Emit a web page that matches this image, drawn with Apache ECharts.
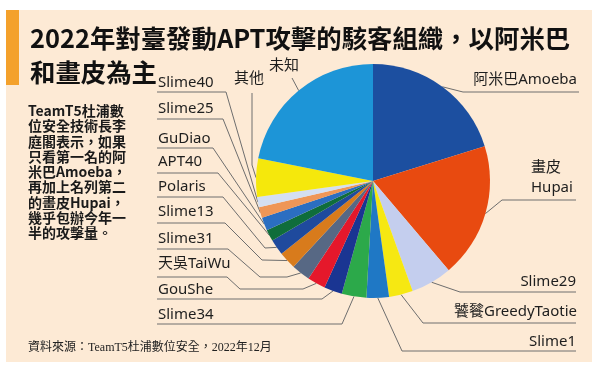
<!DOCTYPE html>
<html><head><meta charset="utf-8">
<script src="https://cdn.jsdelivr.net/npm/echarts@6/dist/echarts.min.js"></script>
<style>html,body{margin:0;padding:0;background:#fff}#c{width:600px;height:374px}</style>
</head><body><div id="c"></div>
<script>
const categories = ['阿米巴Amoeba','畫皮Hupai','Slime29','饕餮GreedyTaotie','Slime1','Slime34','GouShe','天吳TaiWu','Slime31','Slime13','Polaris','APT40','GuDiao','Slime25','Slime40','其他','未知'];
const shares = [20.2, 18.6, 5.7, 3.3, 3.1, 3.4, 2.5, 2.5, 2.6, 2.4, 2.2, 1.6, 1.8, 1.5, 1.4, 5.3, 21.9];
const colors = ['#1c4fa0','#e84a10','#c4ceee','#f6e812','#1f78c5','#2ca94a','#1a3592','#e5182b','#576884','#d87b1c','#1f4a9d','#0f6d3b','#2b6ec1','#ef9656','#d4dff1','#f5e80c','#1d95d7'];
const titleLines = ['2022年對臺發動APT攻擊的駭客組織，以阿米巴', '和畫皮為主'];
const noteLines = ['TeamT5杜浦數','位安全技術長李','庭閣表示，如果','只看第一名的阿','米巴Amoeba，','再加上名列第二','的畫皮Hupai，','幾乎包辦今年一','半的攻擊量。'];
const sourceText = '資料來源：TeamT5杜浦數位安全，2022年12月';

// label placement (layout only)
const place = {
  'Slime40': {x:158, y:83, align:'left', line:[[226,92],[157,92]]},
  'Slime25': {x:158, y:109, align:'left', line:[[223,119],[157,119]]},
  'GuDiao': {x:158, y:139, align:'left', line:[[213,148],[157,148]]},
  'APT40': {x:158, y:162, align:'left', line:[[218,173],[157,173]]},
  'Polaris': {x:158, y:187, align:'left', line:[[265,248],[223,197],[157,197]]},
  'Slime13': {x:158, y:212, align:'left', line:[[262,260],[225,223],[157,223]]},
  'Slime31': {x:158, y:239, align:'left', line:[[287,277],[260,277],[228,249],[157,249]]},
  '天吳TaiWu': {x:158, y:264, align:'left', line:[[303,289],[240,289],[227,277],[157,277]]},
  'GouShe': {x:158, y:290, align:'left', line:[[322,299],[157,299]]},
  'Slime34': {x:158, y:315, align:'left', line:[[342,324],[157,324]]},
  '阿米巴Amoeba': {x:577, y:80, align:'right', line:[[463,92],[579,92]]},
  '畫皮Hupai': {x:531, y:178, align:'left', line:[[502,200],[576,200]]},
  'Slime29': {x:576, y:282, align:'right', line:[[460,292],[576,292]]},
  '饕餮GreedyTaotie': {x:577, y:312, align:'right', line:[[423,323],[576,323]]},
  'Slime1': {x:576, y:342, align:'right', line:[[402,351],[576,351]]},
  '其他': {x:249, y:79, align:'center', line:[[252,165],[252,93]]},
  '未知': {x:284, y:66, align:'center', line:[[292,78]]}
};

const chart = echarts.init(document.getElementById('c'), null, {renderer:'canvas'});
const latin = "'Noto Sans','Noto Sans CJK TC',sans-serif";
chart.setOption({
  animation:false,
  backgroundColor:'#ffffff',
  graphic:[
    {type:'rect', shape:{x:6,y:10,width:586,height:352}, style:{fill:'#fdead5'}, z:-10},
    {type:'rect', shape:{x:6,y:10,width:13,height:75}, style:{fill:'#f4a12b'}, z:-5},
    {type:'text', x:30, y:38, style:{text:titleLines[0], font:"bold 25.4px 'Noto Sans CJK TC'", fill:'#111', textVerticalAlign:'middle'}},
    {type:'text', x:30, y:72, style:{text:titleLines[1], font:"bold 25.4px 'Noto Sans CJK TC'", fill:'#111', textVerticalAlign:'middle'}},
    {type:'text', x:28, y:103, style:{text:noteLines.join('\n'), font:"bold 14px 'Noto Sans CJK TC'", lineHeight:15.3, fill:'#1a1a1a', textVerticalAlign:'top'}},
    {type:'text', x:28, y:348, style:{text:sourceText, font:"12px 'Liberation Serif','Noto Sans CJK TC'", fill:'#222', textVerticalAlign:'middle'}}
  ],
  series:[{
    type:'pie',
    center:[373,181],
    radius:117,
    startAngle:90,
    clockwise:true,
    avoidLabelOverlap:false,
    silent:true,
    data: categories.map((n,i)=>({name:n, value:shares[i], itemStyle:{color:colors[i]}})),
    label:{
      show:true, position:'outside', fontSize:15, color:'#1e1e1e', fontFamily:latin,
      formatter: p => p.name === '畫皮Hupai' ? '畫皮\nHupai' : p.name,
      lineHeight:20
    },
    labelLine:{show:true, length:6, length2:6, lineStyle:{color:'#6e6e6e', width:1}},
    labelLayout: function(p){
      const pl = place[categories[p.dataIndex]];
      const p0 = p.labelLinePoints ? p.labelLinePoints[0] : pl.line[0];
      return {x:pl.x, y:pl.y, align:pl.align, verticalAlign:'middle', labelLinePoints:[p0].concat(pl.line)};
    }
  }]
});
</script></body></html>
